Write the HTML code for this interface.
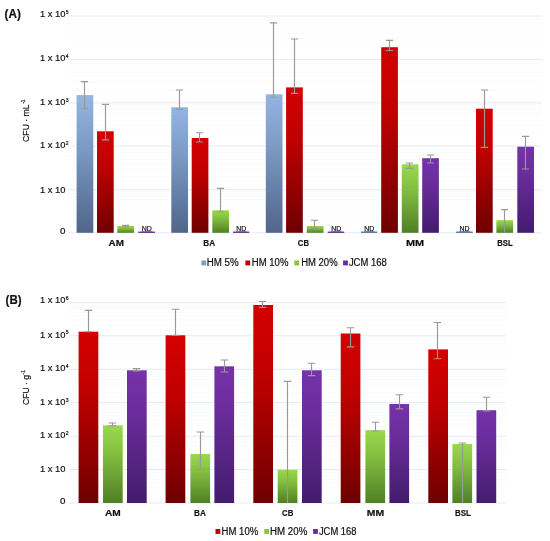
<!DOCTYPE html><html><head><meta charset="utf-8"><title>Chart</title><style>html,body{margin:0;padding:0;background:#fff}svg{display:block}text{font-family:"Liberation Sans",sans-serif;fill:#111;stroke:#111;stroke-width:0.2px}</style></head><body>
<svg width="550" height="541" viewBox="0 0 550 541">
<defs>
<linearGradient id="gb" x1="0" y1="0" x2="0" y2="1"><stop offset="0" stop-color="#93b5e2"/><stop offset="0.35" stop-color="#7e9dc6"/><stop offset="1" stop-color="#50658a"/></linearGradient>
<linearGradient id="gr" x1="0" y1="0" x2="0" y2="1"><stop offset="0" stop-color="#d40000"/><stop offset="0.35" stop-color="#c00000"/><stop offset="1" stop-color="#6e0000"/></linearGradient>
<linearGradient id="gg" x1="0" y1="0" x2="0" y2="1"><stop offset="0" stop-color="#9ad84e"/><stop offset="0.35" stop-color="#84c040"/><stop offset="1" stop-color="#4f7f26"/></linearGradient>
<linearGradient id="gp" x1="0" y1="0" x2="0" y2="1"><stop offset="0" stop-color="#7632aa"/><stop offset="0.35" stop-color="#692c9a"/><stop offset="1" stop-color="#421c6c"/></linearGradient>
</defs>
<rect width="550" height="541" fill="#fff"/>
<rect x="68" y="46.0" width="474" height="0.8" fill="#f8fafc"/>
<rect x="68" y="38.3" width="474" height="0.8" fill="#f8fafc"/>
<rect x="68" y="32.9" width="474" height="0.8" fill="#f8fafc"/>
<rect x="68" y="28.7" width="474" height="0.8" fill="#f8fafc"/>
<rect x="68" y="25.3" width="474" height="0.8" fill="#f8fafc"/>
<rect x="68" y="22.3" width="474" height="0.8" fill="#f8fafc"/>
<rect x="68" y="19.8" width="474" height="0.8" fill="#f8fafc"/>
<rect x="68" y="17.6" width="474" height="0.8" fill="#f8fafc"/>
<rect x="68" y="89.4" width="474" height="0.8" fill="#f8fafc"/>
<rect x="68" y="81.8" width="474" height="0.8" fill="#f8fafc"/>
<rect x="68" y="76.4" width="474" height="0.8" fill="#f8fafc"/>
<rect x="68" y="72.2" width="474" height="0.8" fill="#f8fafc"/>
<rect x="68" y="68.7" width="474" height="0.8" fill="#f8fafc"/>
<rect x="68" y="65.8" width="474" height="0.8" fill="#f8fafc"/>
<rect x="68" y="63.3" width="474" height="0.8" fill="#f8fafc"/>
<rect x="68" y="61.1" width="474" height="0.8" fill="#f8fafc"/>
<rect x="68" y="132.6" width="474" height="0.8" fill="#f8fafc"/>
<rect x="68" y="125.0" width="474" height="0.8" fill="#f8fafc"/>
<rect x="68" y="119.7" width="474" height="0.8" fill="#f8fafc"/>
<rect x="68" y="115.5" width="474" height="0.8" fill="#f8fafc"/>
<rect x="68" y="112.1" width="474" height="0.8" fill="#f8fafc"/>
<rect x="68" y="109.2" width="474" height="0.8" fill="#f8fafc"/>
<rect x="68" y="106.7" width="474" height="0.8" fill="#f8fafc"/>
<rect x="68" y="104.5" width="474" height="0.8" fill="#f8fafc"/>
<rect x="68" y="176.1" width="474" height="0.8" fill="#f8fafc"/>
<rect x="68" y="168.4" width="474" height="0.8" fill="#f8fafc"/>
<rect x="68" y="163.0" width="474" height="0.8" fill="#f8fafc"/>
<rect x="68" y="158.8" width="474" height="0.8" fill="#f8fafc"/>
<rect x="68" y="155.3" width="474" height="0.8" fill="#f8fafc"/>
<rect x="68" y="152.4" width="474" height="0.8" fill="#f8fafc"/>
<rect x="68" y="149.8" width="474" height="0.8" fill="#f8fafc"/>
<rect x="68" y="147.6" width="474" height="0.8" fill="#f8fafc"/>
<rect x="68" y="219.4" width="474" height="0.8" fill="#f8fafc"/>
<rect x="68" y="211.8" width="474" height="0.8" fill="#f8fafc"/>
<rect x="68" y="206.5" width="474" height="0.8" fill="#f8fafc"/>
<rect x="68" y="202.3" width="474" height="0.8" fill="#f8fafc"/>
<rect x="68" y="198.9" width="474" height="0.8" fill="#f8fafc"/>
<rect x="68" y="196.0" width="474" height="0.8" fill="#f8fafc"/>
<rect x="68" y="193.5" width="474" height="0.8" fill="#f8fafc"/>
<rect x="68" y="191.3" width="474" height="0.8" fill="#f8fafc"/>
<rect x="68" y="15.5" width="474" height="1" fill="#e5ebf4"/>
<rect x="68" y="59.0" width="474" height="1" fill="#e5ebf4"/>
<rect x="68" y="102.4" width="474" height="1" fill="#e5ebf4"/>
<rect x="68" y="145.5" width="474" height="1" fill="#e5ebf4"/>
<rect x="68" y="189.2" width="474" height="1" fill="#e5ebf4"/>
<rect x="68" y="232.3" width="474" height="1" fill="#e5ebf4"/>
<rect x="76.6" y="95.1" width="16.7" height="137.7" fill="url(#gb)"/>
<rect x="97.0" y="131.3" width="16.7" height="101.5" fill="url(#gr)"/>
<rect x="117.3" y="226.0" width="16.7" height="6.8" fill="url(#gg)"/>
<rect x="171.3" y="107.3" width="16.7" height="125.5" fill="url(#gb)"/>
<rect x="191.7" y="138.0" width="16.7" height="94.8" fill="url(#gr)"/>
<rect x="212.3" y="210.3" width="16.7" height="22.5" fill="url(#gg)"/>
<rect x="265.8" y="94.3" width="16.7" height="138.5" fill="url(#gb)"/>
<rect x="286.1" y="87.4" width="16.7" height="145.4" fill="url(#gr)"/>
<rect x="306.8" y="226.0" width="16.7" height="6.8" fill="url(#gg)"/>
<rect x="381.2" y="47.2" width="16.7" height="185.6" fill="url(#gr)"/>
<rect x="401.8" y="164.3" width="16.7" height="68.5" fill="url(#gg)"/>
<rect x="422.2" y="158.2" width="16.7" height="74.6" fill="url(#gp)"/>
<rect x="476.0" y="108.7" width="16.7" height="124.1" fill="url(#gr)"/>
<rect x="496.4" y="220.2" width="16.7" height="12.6" fill="url(#gg)"/>
<rect x="517.3" y="146.7" width="16.7" height="86.1" fill="url(#gp)"/>
<path d="M80.9 81.6H88.1M84.5 81.1V108.9M80.9 108.4H88.1" stroke="#999999" stroke-width="1.15" fill="none"/>
<path d="M101.9 104.4H109.1M105.5 103.9V140.4M101.9 139.9H109.1" stroke="#999999" stroke-width="1.15" fill="none"/>
<path d="M121.9 225.4H129.1M125.5 224.9V227.5M121.9 227.0H129.1" stroke="#999999" stroke-width="1.15" fill="none"/>
<path d="M175.9 90.0H183.1M179.5 89.5V109.8M175.9 109.3H183.1" stroke="#999999" stroke-width="1.15" fill="none"/>
<path d="M195.9 132.7H203.1M199.5 132.2V142.5M195.9 142.0H203.1" stroke="#999999" stroke-width="1.15" fill="none"/>
<path d="M216.9 188.3H224.1M220.5 187.8V212.2M216.9 211.7H224.1" stroke="#999999" stroke-width="1.15" fill="none"/>
<path d="M269.9 22.9H277.1M273.5 22.4V97.7M269.9 97.2H277.1" stroke="#999999" stroke-width="1.15" fill="none"/>
<path d="M290.9 39.0H298.1M294.5 38.5V93.9M290.9 93.4H298.1" stroke="#999999" stroke-width="1.15" fill="none"/>
<path d="M310.9 220.2H318.1M314.5 219.7V228.9M310.9 228.4H318.1" stroke="#999999" stroke-width="1.15" fill="none"/>
<path d="M385.9 40.3H393.1M389.5 39.8V51.0M385.9 50.5H393.1" stroke="#999999" stroke-width="1.15" fill="none"/>
<path d="M405.9 163.0H413.1M409.5 162.5V168.9M405.9 168.4H413.1" stroke="#999999" stroke-width="1.15" fill="none"/>
<path d="M426.9 155.0H434.1M430.5 154.5V163.5M426.9 163.0H434.1" stroke="#999999" stroke-width="1.15" fill="none"/>
<path d="M480.9 90.0H488.1M484.5 89.5V147.8M480.9 147.3H488.1" stroke="#999999" stroke-width="1.15" fill="none"/>
<path d="M500.9 209.6H508.1M504.5 209.1V232.8" stroke="#999999" stroke-width="1.15" fill="none"/>
<path d="M521.9 136.3H529.1M525.5 135.8V169.5M521.9 169.0H529.1" stroke="#999999" stroke-width="1.15" fill="none"/>
<rect x="138.3" y="231.6" width="16.7" height="1.3" fill="#5a2a8c"/>
<text x="146.8" y="230.8" font-size="6.6" text-anchor="middle" textLength="10" lengthAdjust="spacingAndGlyphs">ND</text>
<rect x="141.7" y="231.1" width="10.4" height="0.45" fill="#333"/>
<rect x="233.0" y="231.6" width="16.3" height="1.3" fill="#5a2a8c"/>
<text x="241.3" y="230.8" font-size="6.6" text-anchor="middle" textLength="10" lengthAdjust="spacingAndGlyphs">ND</text>
<rect x="236.2" y="231.1" width="10.4" height="0.45" fill="#333"/>
<rect x="327.8" y="231.6" width="16.4" height="1.3" fill="#5a2a8c"/>
<text x="336.2" y="230.8" font-size="6.6" text-anchor="middle" textLength="10" lengthAdjust="spacingAndGlyphs">ND</text>
<rect x="331.0" y="231.1" width="10.4" height="0.45" fill="#333"/>
<rect x="361.0" y="231.6" width="16.2" height="1.3" fill="#4f6f9f"/>
<text x="369.3" y="230.8" font-size="6.6" text-anchor="middle" textLength="10" lengthAdjust="spacingAndGlyphs">ND</text>
<rect x="364.1" y="231.1" width="10.4" height="0.45" fill="#333"/>
<rect x="456.0" y="231.6" width="16.7" height="1.3" fill="#4f6f9f"/>
<text x="464.6" y="230.8" font-size="6.6" text-anchor="middle" textLength="10" lengthAdjust="spacingAndGlyphs">ND</text>
<rect x="459.4" y="231.1" width="10.4" height="0.45" fill="#333"/>
<text x="65.4" y="17.1" font-size="9.8" text-anchor="end" textLength="25.5" lengthAdjust="spacingAndGlyphs">1 x 10</text>
<text x="65.7" y="13.8" font-size="5">5</text>
<text x="65.4" y="60.8" font-size="9.8" text-anchor="end" textLength="25.5" lengthAdjust="spacingAndGlyphs">1 x 10</text>
<text x="65.7" y="57.5" font-size="5">4</text>
<text x="65.4" y="104.8" font-size="9.8" text-anchor="end" textLength="25.5" lengthAdjust="spacingAndGlyphs">1 x 10</text>
<text x="65.7" y="101.5" font-size="5">3</text>
<text x="65.4" y="147.8" font-size="9.8" text-anchor="end" textLength="25.5" lengthAdjust="spacingAndGlyphs">1 x 10</text>
<text x="65.7" y="144.5" font-size="5">2</text>
<text x="65.4" y="192.6" font-size="9.8" text-anchor="end" textLength="25.5" lengthAdjust="spacingAndGlyphs">1 x 10</text>
<text x="65.4" y="234.1" font-size="9.8" text-anchor="end">0</text>
<text x="116.2" y="245.8" font-size="9.8" font-weight="bold" text-anchor="middle" textLength="15.4" lengthAdjust="spacingAndGlyphs">AM</text>
<text x="209.2" y="245.8" font-size="9.8" font-weight="bold" text-anchor="middle" textLength="11.8" lengthAdjust="spacingAndGlyphs">BA</text>
<text x="303.4" y="245.8" font-size="9.8" font-weight="bold" text-anchor="middle" textLength="11.2" lengthAdjust="spacingAndGlyphs">CB</text>
<text x="415" y="245.8" font-size="9.8" font-weight="bold" text-anchor="middle" textLength="18.2" lengthAdjust="spacingAndGlyphs">MM</text>
<text x="505" y="245.8" font-size="9.8" font-weight="bold" text-anchor="middle" textLength="15.4" lengthAdjust="spacingAndGlyphs">BSL</text>
<text x="4.6" y="17.6" font-size="12.2" font-weight="bold" textLength="16.3" lengthAdjust="spacingAndGlyphs">(A)</text>
<text transform="translate(29,141.9) rotate(-90)" font-size="9.3" textLength="37.5" lengthAdjust="spacingAndGlyphs">CFU · mL</text>
<text transform="translate(25.4,103.8) rotate(-90)" font-size="4.8">-1</text>
<rect x="201.4" y="260.5" width="4.8" height="4.9" fill="#7f9dc6"/>
<text x="206.7" y="266" font-size="10" textLength="32" lengthAdjust="spacingAndGlyphs">HM 5%</text>
<rect x="245.4" y="260.5" width="4.8" height="4.9" fill="#c00000"/>
<text x="251.8" y="266" font-size="10" textLength="36.6" lengthAdjust="spacingAndGlyphs">HM 10%</text>
<rect x="294.3" y="260.5" width="4.8" height="4.9" fill="#88c440"/>
<text x="301.2" y="266" font-size="10" textLength="36.4" lengthAdjust="spacingAndGlyphs">HM 20%</text>
<rect x="343.1" y="260.5" width="4.8" height="4.9" fill="#6a2c9c"/>
<text x="348.9" y="266" font-size="10" textLength="37.8" lengthAdjust="spacingAndGlyphs">JCM 168</text>
<rect x="69" y="325.2" width="437" height="0.8" fill="#f8fafc"/>
<rect x="69" y="319.4" width="437" height="0.8" fill="#f8fafc"/>
<rect x="69" y="315.2" width="437" height="0.8" fill="#f8fafc"/>
<rect x="69" y="312.0" width="437" height="0.8" fill="#f8fafc"/>
<rect x="69" y="309.3" width="437" height="0.8" fill="#f8fafc"/>
<rect x="69" y="307.1" width="437" height="0.8" fill="#f8fafc"/>
<rect x="69" y="305.1" width="437" height="0.8" fill="#f8fafc"/>
<rect x="69" y="303.4" width="437" height="0.8" fill="#f8fafc"/>
<rect x="69" y="358.7" width="437" height="0.8" fill="#f8fafc"/>
<rect x="69" y="352.8" width="437" height="0.8" fill="#f8fafc"/>
<rect x="69" y="348.6" width="437" height="0.8" fill="#f8fafc"/>
<rect x="69" y="345.4" width="437" height="0.8" fill="#f8fafc"/>
<rect x="69" y="342.7" width="437" height="0.8" fill="#f8fafc"/>
<rect x="69" y="340.5" width="437" height="0.8" fill="#f8fafc"/>
<rect x="69" y="338.5" width="437" height="0.8" fill="#f8fafc"/>
<rect x="69" y="336.8" width="437" height="0.8" fill="#f8fafc"/>
<rect x="69" y="392.1" width="437" height="0.8" fill="#f8fafc"/>
<rect x="69" y="386.3" width="437" height="0.8" fill="#f8fafc"/>
<rect x="69" y="382.1" width="437" height="0.8" fill="#f8fafc"/>
<rect x="69" y="378.9" width="437" height="0.8" fill="#f8fafc"/>
<rect x="69" y="376.2" width="437" height="0.8" fill="#f8fafc"/>
<rect x="69" y="374.0" width="437" height="0.8" fill="#f8fafc"/>
<rect x="69" y="372.0" width="437" height="0.8" fill="#f8fafc"/>
<rect x="69" y="370.3" width="437" height="0.8" fill="#f8fafc"/>
<rect x="69" y="425.6" width="437" height="0.8" fill="#f8fafc"/>
<rect x="69" y="419.7" width="437" height="0.8" fill="#f8fafc"/>
<rect x="69" y="415.5" width="437" height="0.8" fill="#f8fafc"/>
<rect x="69" y="412.3" width="437" height="0.8" fill="#f8fafc"/>
<rect x="69" y="409.6" width="437" height="0.8" fill="#f8fafc"/>
<rect x="69" y="407.4" width="437" height="0.8" fill="#f8fafc"/>
<rect x="69" y="405.4" width="437" height="0.8" fill="#f8fafc"/>
<rect x="69" y="403.7" width="437" height="0.8" fill="#f8fafc"/>
<rect x="69" y="459.0" width="437" height="0.8" fill="#f8fafc"/>
<rect x="69" y="453.2" width="437" height="0.8" fill="#f8fafc"/>
<rect x="69" y="449.0" width="437" height="0.8" fill="#f8fafc"/>
<rect x="69" y="445.8" width="437" height="0.8" fill="#f8fafc"/>
<rect x="69" y="443.1" width="437" height="0.8" fill="#f8fafc"/>
<rect x="69" y="440.9" width="437" height="0.8" fill="#f8fafc"/>
<rect x="69" y="438.9" width="437" height="0.8" fill="#f8fafc"/>
<rect x="69" y="437.2" width="437" height="0.8" fill="#f8fafc"/>
<rect x="69" y="492.5" width="437" height="0.8" fill="#f8fafc"/>
<rect x="69" y="486.6" width="437" height="0.8" fill="#f8fafc"/>
<rect x="69" y="482.4" width="437" height="0.8" fill="#f8fafc"/>
<rect x="69" y="479.2" width="437" height="0.8" fill="#f8fafc"/>
<rect x="69" y="476.5" width="437" height="0.8" fill="#f8fafc"/>
<rect x="69" y="474.3" width="437" height="0.8" fill="#f8fafc"/>
<rect x="69" y="472.3" width="437" height="0.8" fill="#f8fafc"/>
<rect x="69" y="470.6" width="437" height="0.8" fill="#f8fafc"/>
<rect x="69" y="301.8" width="437" height="1" fill="#e5ebf4"/>
<rect x="69" y="335.2" width="437" height="1" fill="#e5ebf4"/>
<rect x="69" y="368.7" width="437" height="1" fill="#e5ebf4"/>
<rect x="69" y="402.1" width="437" height="1" fill="#e5ebf4"/>
<rect x="69" y="435.6" width="437" height="1" fill="#e5ebf4"/>
<rect x="69" y="469.0" width="437" height="1" fill="#e5ebf4"/>
<rect x="69" y="502.5" width="437" height="1" fill="#e5ebf4"/>
<rect x="78.6" y="331.7" width="19.7" height="171.3" fill="url(#gr)"/>
<rect x="103.0" y="425.3" width="19.7" height="77.7" fill="url(#gg)"/>
<rect x="127.0" y="370.3" width="19.7" height="132.7" fill="url(#gp)"/>
<rect x="165.6" y="335.3" width="19.7" height="167.7" fill="url(#gr)"/>
<rect x="190.4" y="454.0" width="19.7" height="49.0" fill="url(#gg)"/>
<rect x="214.4" y="366.3" width="19.7" height="136.7" fill="url(#gp)"/>
<rect x="253.3" y="305.0" width="19.7" height="198.0" fill="url(#gr)"/>
<rect x="277.7" y="469.7" width="19.7" height="33.3" fill="url(#gg)"/>
<rect x="302.0" y="370.3" width="19.7" height="132.7" fill="url(#gp)"/>
<rect x="340.7" y="333.5" width="19.7" height="169.5" fill="url(#gr)"/>
<rect x="365.4" y="430.2" width="19.7" height="72.8" fill="url(#gg)"/>
<rect x="389.4" y="404.0" width="19.7" height="99.0" fill="url(#gp)"/>
<rect x="428.3" y="349.4" width="19.7" height="153.6" fill="url(#gr)"/>
<rect x="452.4" y="444.0" width="19.7" height="59.0" fill="url(#gg)"/>
<rect x="476.5" y="410.2" width="19.7" height="92.8" fill="url(#gp)"/>
<path d="M84.7 310.4H92.3M88.5 309.9V332.2M84.7 331.7H92.3" stroke="#999999" stroke-width="1.15" fill="none"/>
<path d="M108.7 423.0H116.3M112.5 422.5V426.2M108.7 425.7H116.3" stroke="#999999" stroke-width="1.15" fill="none"/>
<path d="M132.7 368.6H140.3M136.5 368.1V371.4M132.7 370.9H140.3" stroke="#999999" stroke-width="1.15" fill="none"/>
<path d="M171.7 309.2H179.3M175.5 308.7V335.8M171.7 335.3H179.3" stroke="#999999" stroke-width="1.15" fill="none"/>
<path d="M196.7 432.0H204.3M200.5 431.5V470.0M196.7 469.5H204.3" stroke="#999999" stroke-width="1.15" fill="none"/>
<path d="M220.7 360.0H228.3M224.5 359.5V372.5M220.7 372.0H228.3" stroke="#999999" stroke-width="1.15" fill="none"/>
<path d="M258.7 301.5H266.3M262.5 301.0V307.8M258.7 307.3H266.3" stroke="#999999" stroke-width="1.15" fill="none"/>
<path d="M283.7 381.4H291.3M287.5 380.9V503.0" stroke="#999999" stroke-width="1.15" fill="none"/>
<path d="M307.7 363.2H315.3M311.5 362.7V376.1M307.7 375.6H315.3" stroke="#999999" stroke-width="1.15" fill="none"/>
<path d="M346.7 327.7H354.3M350.5 327.2V347.3M346.7 346.8H354.3" stroke="#999999" stroke-width="1.15" fill="none"/>
<path d="M371.7 422.2H379.3M375.5 421.7V431.5M371.7 431.0H379.3" stroke="#999999" stroke-width="1.15" fill="none"/>
<path d="M395.7 394.7H403.3M399.5 394.2V409.4M395.7 408.9H403.3" stroke="#999999" stroke-width="1.15" fill="none"/>
<path d="M433.7 322.5H441.3M437.5 322.0V359.2M433.7 358.7H441.3" stroke="#999999" stroke-width="1.15" fill="none"/>
<path d="M458.7 443.0H466.3M462.5 442.5V503.0" stroke="#999999" stroke-width="1.15" fill="none"/>
<path d="M482.7 397.2H490.3M486.5 396.7V411.5M482.7 411.0H490.3" stroke="#999999" stroke-width="1.15" fill="none"/>
<text x="65.4" y="303.2" font-size="9.8" text-anchor="end" textLength="25.5" lengthAdjust="spacingAndGlyphs">1 x 10</text>
<text x="65.7" y="299.9" font-size="5">6</text>
<text x="65.4" y="337.5" font-size="9.8" text-anchor="end" textLength="25.5" lengthAdjust="spacingAndGlyphs">1 x 10</text>
<text x="65.7" y="334.2" font-size="5">5</text>
<text x="65.4" y="371.2" font-size="9.8" text-anchor="end" textLength="25.5" lengthAdjust="spacingAndGlyphs">1 x 10</text>
<text x="65.7" y="367.9" font-size="5">4</text>
<text x="65.4" y="404.8" font-size="9.8" text-anchor="end" textLength="25.5" lengthAdjust="spacingAndGlyphs">1 x 10</text>
<text x="65.7" y="401.5" font-size="5">3</text>
<text x="65.4" y="437.9" font-size="9.8" text-anchor="end" textLength="25.5" lengthAdjust="spacingAndGlyphs">1 x 10</text>
<text x="65.7" y="434.59999999999997" font-size="5">2</text>
<text x="65.4" y="472.3" font-size="9.8" text-anchor="end" textLength="25.5" lengthAdjust="spacingAndGlyphs">1 x 10</text>
<text x="65.4" y="504.1" font-size="9.8" text-anchor="end">0</text>
<text x="112.8" y="516.0" font-size="9.8" font-weight="bold" text-anchor="middle" textLength="15.8" lengthAdjust="spacingAndGlyphs">AM</text>
<text x="200" y="516.0" font-size="9.8" font-weight="bold" text-anchor="middle" textLength="11.8" lengthAdjust="spacingAndGlyphs">BA</text>
<text x="287.7" y="516.0" font-size="9.8" font-weight="bold" text-anchor="middle" textLength="11.2" lengthAdjust="spacingAndGlyphs">CB</text>
<text x="375.5" y="516.0" font-size="9.8" font-weight="bold" text-anchor="middle" textLength="17.4" lengthAdjust="spacingAndGlyphs">MM</text>
<text x="463" y="516.0" font-size="9.8" font-weight="bold" text-anchor="middle" textLength="15.8" lengthAdjust="spacingAndGlyphs">BSL</text>
<text x="5.6" y="304" font-size="12.2" font-weight="bold" textLength="16" lengthAdjust="spacingAndGlyphs">(B)</text>
<text transform="translate(28.8,404.9) rotate(-90)" font-size="9.3" textLength="30" lengthAdjust="spacingAndGlyphs">CFU · g</text>
<text transform="translate(25.4,374.4) rotate(-90)" font-size="4.8">-1</text>
<rect x="215.5" y="529.0" width="4.8" height="4.9" fill="#c00000"/>
<text x="221.6" y="534.5" font-size="10" textLength="36.6" lengthAdjust="spacingAndGlyphs">HM 10%</text>
<rect x="264.3" y="529.0" width="4.8" height="4.9" fill="#88c440"/>
<text x="270.1" y="534.5" font-size="10" textLength="37.2" lengthAdjust="spacingAndGlyphs">HM 20%</text>
<rect x="313.1" y="529.0" width="4.8" height="4.9" fill="#6a2c9c"/>
<text x="318.9" y="534.5" font-size="10" textLength="37.6" lengthAdjust="spacingAndGlyphs">JCM 168</text>
</svg></body></html>
